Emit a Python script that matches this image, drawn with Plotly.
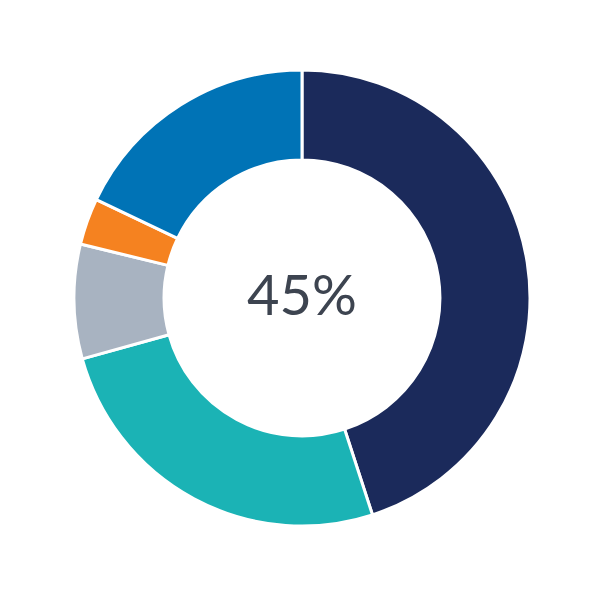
import plotly.graph_objects as go

labels = ["A", "B", "C", "D", "E"]
values = [45, 25.7, 8.1, 3.3, 17.9]
colors = ["#1b2a5b", "#1bb3b5", "#a8b3c1", "#f58220", "#0073b6"]
center_text = "45%"

fig = go.Figure(go.Pie(
    labels=labels,
    values=values,
    hole=0.605,
    sort=False,
    direction="clockwise",
    rotation=0,
    marker=dict(colors=colors, line=dict(color="white", width=3)),
    textinfo="none",
    hoverinfo="label+percent",
    domain=dict(x=[0.11, 0.87], y=[0.1367, 0.8967]),
))
fig.add_annotation(
    text=center_text, x=0.49, y=0.5167, xref="paper", yref="paper",
    showarrow=False, yshift=4,
    font=dict(family="Lato, Open Sans, sans-serif", size=56, color="#3d4450"),
)
fig.update_layout(
    width=600, height=600, showlegend=False,
    margin=dict(l=0, r=0, t=0, b=0),
    paper_bgcolor="white", plot_bgcolor="white",
)
fig.write_html("out.html")
